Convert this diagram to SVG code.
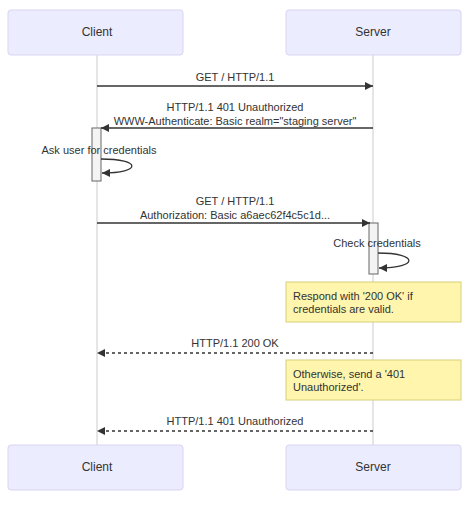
<svg xmlns="http://www.w3.org/2000/svg" width="474" height="506" viewBox="0 0 474 506">
<style>
  .actor { fill: #ececff; stroke: #d9d3f2; stroke-width: 1; }
  .actor-text { font-family: "Liberation Sans", Arial, sans-serif; font-size: 12px; fill: #333; text-anchor: middle; }
  .lifeline { stroke: #cccccc; stroke-width: 1; }
  .msg { stroke: #333; stroke-width: 1.3; fill: none; }
  .dashed { stroke-dasharray: 3,3; }
  .label { font-family: "Liberation Sans", Arial, sans-serif; font-size: 11px; fill: #333; text-anchor: middle; }
  .activation { fill: #f4f4f4; stroke: #666; stroke-width: 1; }
  .note { fill: #fff5ad; stroke: #d6d07a; stroke-width: 1; }
  .note-text { font-family: "Liberation Sans", Arial, sans-serif; font-size: 11px; fill: #333; }
</style>
<defs>
  <marker id="arrow" viewBox="0 0 10 10" refX="10" refY="5" markerWidth="8" markerHeight="8" markerUnits="userSpaceOnUse" orient="auto">
    <path d="M0,0 L10,5 L0,10 z" fill="#333"/>
  </marker>
</defs>
<rect width="474" height="506" fill="#ffffff"/>

<g id="lifelines">
  <line class="lifeline" x1="97" y1="55" x2="97" y2="445"/>
  <line class="lifeline" x1="373" y1="55" x2="373" y2="445"/>
</g>

<g id="client-top">
  <rect class="actor" x="8" y="10" width="175" height="45" rx="3"/>
  <text class="actor-text" x="97" y="36">Client</text>
</g>
<g id="server-top">
  <rect class="actor" x="286" y="10" width="175" height="45" rx="3"/>
  <text class="actor-text" x="373" y="36">Server</text>
</g>
<g id="client-bottom">
  <rect class="actor" x="8" y="445" width="175" height="45" rx="3"/>
  <text class="actor-text" x="97" y="471">Client</text>
</g>
<g id="server-bottom">
  <rect class="actor" x="286" y="445" width="175" height="45" rx="3"/>
  <text class="actor-text" x="373" y="471">Server</text>
</g>

<g id="client-activation">
  <rect class="activation" x="92" y="128" width="9" height="53"/>
</g>
<g id="server-activation">
  <rect class="activation" x="369" y="223" width="9" height="51"/>
</g>

<g id="note-1">
  <rect class="note" x="286" y="282" width="175" height="40"/>
  <text class="note-text" x="293" y="300">Respond with '200 OK' if</text>
  <text class="note-text" x="293" y="313">credentials are valid.</text>
</g>
<g id="note-2">
  <rect class="note" x="286" y="360" width="175" height="40"/>
  <text class="note-text" x="293" y="378">Otherwise, send a '401</text>
  <text class="note-text" x="293" y="391">Unauthorized'.</text>
</g>

<g id="connectors">
  <line class="msg" x1="97" y1="86" x2="373" y2="86" marker-end="url(#arrow)"/>
  <line class="msg" x1="373" y1="128" x2="101" y2="128" marker-end="url(#arrow)"/>
  <path class="msg" d="M101,159 C142,159 142,173 102,173" marker-end="url(#arrow)"/>
  <line class="msg" x1="97" y1="223" x2="370" y2="223" marker-end="url(#arrow)"/>
  <path class="msg" d="M378,253 C419,253 419,268 379,268" marker-end="url(#arrow)"/>
  <line class="msg dashed" x1="373" y1="353" x2="97" y2="353" marker-end="url(#arrow)"/>
  <line class="msg dashed" x1="373" y1="431" x2="97" y2="431" marker-end="url(#arrow)"/>
</g>

<g id="labels">
  <text class="label" x="235" y="81">GET / HTTP/1.1</text>
  <text class="label" x="235" y="111">HTTP/1.1 401 Unauthorized</text>
  <text class="label" x="235" y="125">WWW-Authenticate: Basic realm="staging server"</text>
  <text class="label" x="99" y="154">Ask user for credentials</text>
  <text class="label" x="235" y="205">GET / HTTP/1.1</text>
  <text class="label" x="235" y="219">Authorization: Basic a6aec62f4c5c1d...</text>
  <text class="label" x="377" y="247">Check credentials</text>
  <text class="label" x="235" y="347">HTTP/1.1 200 OK</text>
  <text class="label" x="235" y="425">HTTP/1.1 401 Unauthorized</text>
</g>
</svg>
